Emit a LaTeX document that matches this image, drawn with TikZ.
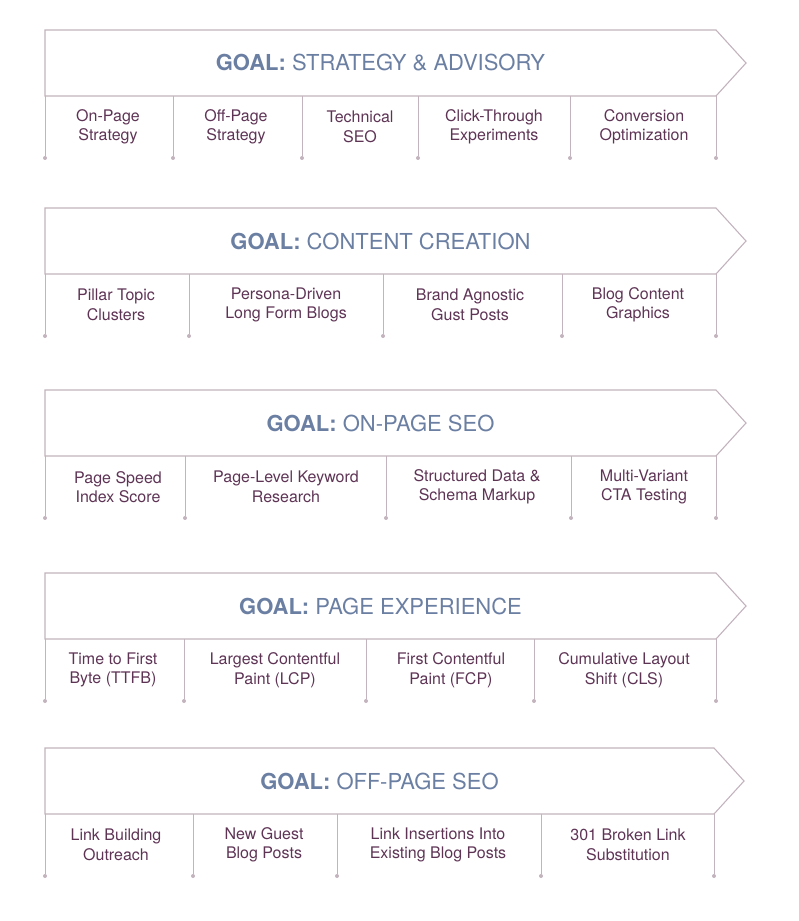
\documentclass[tikz,border=0pt]{standalone}
\usepackage{fontspec}
\setmainfont{TeX Gyre Heros}
\usetikzlibrary{calc}
\definecolor{ln}{HTML}{C2B3BD}
\definecolor{tx}{HTML}{5E3455}
\definecolor{gl}{HTML}{6B7FA3}
\begin{document}
\begin{tikzpicture}[x=1pt,y=-1pt,
  frame/.style={draw=ln,line width=1.1pt},
  item/.style={text=tx,font=\fontsize{16}{19.5}\selectfont,align=center},
  goal/.style={text=gl,font=\fontsize{22}{26}\selectfont},
  dot/.style={circle,fill=ln,inner sep=0pt,minimum size=4pt}]
\useasboundingbox (0,0) rectangle (798,921);
% #1 id, #2 top y, #3 right x, #4 title, #5 list of divider x, #6 list of labels
\newcommand\goalblock[6]{%
  \coordinate (#1tl) at (45,#2);
  \coordinate (#1tr) at (#3,#2);
  \coordinate (#1tip) at (#3+30,#2+33);
  \coordinate (#1br) at (#3,#2+66);
  \coordinate (#1bl) at (45,#2+66);
  \draw[frame] (#1bl) -- (#1tl) -- (#1tr) -- (#1tip) -- (#1br) -- cycle;
  \node[goal] (#1title) at ($(#1tl)!0.5!(#1br)$) {\textbf{GOAL:} #4};
  \foreach \xx [count=\i] in {#5} {
    \coordinate (#1d\i) at (\xx,#2+66);
    \node[dot] (#1p\i) at (\xx,#2+128) {};
    \draw[frame,line width=0.9pt] (#1d\i) -- (#1p\i);
  }
  \foreach \xx/\yy/\lab [count=\i] in {#6} {
    \node[item] (#1t\i) at (\xx,#2+97) {\lab};
  }
}
\goalblock{a}{30}{716}{STRATEGY \& ADVISORY}{45,173,302,418,570,716}
  {108/0/{On-Page\\Strategy},236/0/{Off-Page\\Strategy},360/0/{Technical\\SEO},494/0/{Click-Through\\Experiments},644/0/{Conversion\\Optimization}}
\goalblock{b}{208}{716}{CONTENT CREATION}{45,189,383,562,716}
  {116/0/{Pillar Topic\\Clusters},286/0/{Persona-Driven\\Long Form Blogs},470/0/{Brand Agnostic\\Gust Posts},638/0/{Blog Content\\Graphics}}
\goalblock{c}{390}{716}{ON-PAGE SEO}{45,185,386,571,716}
  {118/0/{Page Speed\\Index Score},286/0/{Page-Level Keyword\\Research},477/0/{Structured Data \&\\Schema Markup},644/0/{Multi-Variant\\CTA Testing}}
\goalblock{d}{573}{716}{PAGE EXPERIENCE}{45,184,366,534,716}
  {113/0/{Time to First\\Byte (TTFB)},275/0/{Largest Contentful\\Paint (LCP)},451/0/{First Contentful\\Paint (FCP)},624/0/{Cumulative Layout\\Shift (CLS)}}
\goalblock{e}{748}{714}{OFF-PAGE SEO}{45,193,337,541,714}
  {116/0/{Link Building\\Outreach},264/0/{New Guest\\Blog Posts},438/0/{Link Insertions Into\\Existing Blog Posts},628/0/{301 Broken Link\\Substitution}}
\end{tikzpicture}
\end{document}
